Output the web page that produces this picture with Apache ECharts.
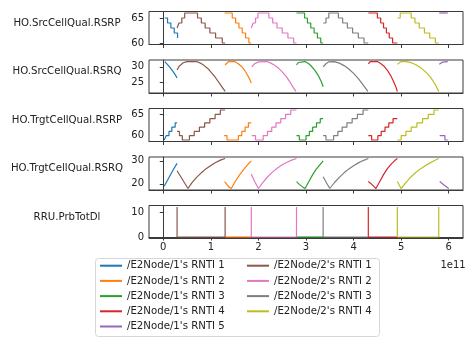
<!DOCTYPE html>
<html><head><meta charset="utf-8">
<script src="https://cdn.jsdelivr.net/npm/echarts@6/dist/echarts.min.js"></script>
<style>html,body{margin:0;padding:0;background:#fff}#c{width:474px;height:355px}</style>
</head><body><div id="c"></div><script>
// ---- data (x in units of 1e11) ----
const xTicks = [0, 1, 2, 3, 4, 5, 6];
const panelLabels = ['HO.SrcCellQual.RSRP', 'HO.SrcCellQual.RSRQ', 'HO.TrgtCellQual.RSRP', 'HO.TrgtCellQual.RSRQ', 'RRU.PrbTotDl'];
const panelTicks = [[60, 65], [25, 30], [60, 65], [20, 30], [0, 10]];
const seriesNames = ["/E2Node/1's RNTI 1", "/E2Node/1's RNTI 2", "/E2Node/1's RNTI 3", "/E2Node/1's RNTI 4", "/E2Node/1's RNTI 5",
  "/E2Node/2's RNTI 1", "/E2Node/2's RNTI 2", "/E2Node/2's RNTI 3", "/E2Node/2's RNTI 4"];
const seriesColors = ['#1f77b4', '#ff7f0e', '#2ca02c', '#d62728', '#9467bd', '#8c564b', '#e377c2', '#7f7f7f', '#bcbd22'];

// order: /1 R1..R5, /2 R1..R4
const srcRsrp = [
  [[0.03,65],[0.09,64],[0.16,63],[0.23,62],[0.3,61],[0.31,61]],
  [[1.29,66],[1.45,65],[1.52,64],[1.59,63],[1.66,62],[1.73,61],[1.8,60],[1.85,60]],
  [[2.8,66],[2.97,65],[3.03,64],[3.1,63],[3.17,62],[3.24,61],[3.31,60],[3.36,60]],
  [[4.31,66],[4.5,65],[4.57,64],[4.63,63],[4.69,62],[4.75,61],[4.82,60],[4.92,60]],
  [[5.8,66],[5.98,66]],
  [[0.29,63],[0.33,64],[0.39,65],[0.45,66],[0.72,65],[0.8,64],[0.88,63],[0.98,62],[1.1,61],[1.24,60],[1.3,60]],
  [[1.85,63],[1.89,64],[1.94,65],[1.99,66],[2.22,65],[2.3,64],[2.39,63],[2.5,62],[2.62,61],[2.74,60],[2.8,60]],
  [[3.36,64],[3.42,65],[3.48,66],[3.68,65],[3.77,64],[3.87,63],[3.98,62],[4.1,61],[4.22,60],[4.31,60]],
  [[4.92,65],[4.98,66],[5.21,65],[5.29,64],[5.38,63],[5.49,62],[5.6,61],[5.72,60],[5.79,60]]
];
const srcRsrq = [
  [[0.03,31.7],[0.08,30.9],[0.14,29.8],[0.2,28.6],[0.25,27.5],[0.29,26.4]],
  [[1.3,30.6],[1.33,31.2],[1.37,31.7],[1.5,31.7],[1.57,31.1],[1.64,30.2],[1.71,28.9],[1.77,27.4],[1.82,25.9],[1.85,24.8]],
  [[2.8,30.6],[2.84,31.4],[2.88,31.7],[2.98,31.7],[3.05,31.1],[3.12,30.1],[3.19,28.8],[3.26,27.2],[3.32,25.3],[3.36,23.6]],
  [[4.31,31],[4.35,31.7],[4.5,31.7],[4.57,31.1],[4.64,30.2],[4.71,28.9],[4.78,27.2],[4.84,25.3],[4.89,23.5],[4.92,22.1]],
  [[5.8,30.8],[5.87,31.5],[5.98,31.7]],
  [[0.29,29],[0.34,30.3],[0.42,31.3],[0.5,31.7],[0.7,31.7],[0.78,31.2],[0.86,30.4],[0.94,29.4],[1.02,28],[1.1,26.5],[1.2,24.3],[1.3,22.1]],
  [[1.86,30],[1.92,31],[2,31.6],[2.04,31.7],[2.18,31.7],[2.26,31.2],[2.34,30.5],[2.42,29.6],[2.5,28.4],[2.58,27],[2.66,25.2],[2.73,23.4],[2.79,22.1]],
  [[3.36,30],[3.42,31],[3.48,31.6],[3.5,31.7],[3.6,31.7],[3.7,31.2],[3.8,30.4],[3.9,29.3],[4,27.9],[4.1,26.2],[4.2,24.2],[4.3,22.1]],
  [[4.92,30.8],[4.96,31.4],[5,31.7],[5.12,31.7],[5.22,31.3],[5.32,30.6],[5.42,29.6],[5.52,28.3],[5.62,26.6],[5.71,24.5],[5.79,22.1]]
];
const trgRsrp = [
  [[0.02,59],[0.06,60],[0.12,61],[0.18,62],[0.25,63],[0.29,63]],
  [[1.28,60],[1.34,59],[1.58,60],[1.65,61],[1.72,62],[1.79,63],[1.85,63]],
  [[2.8,60],[2.86,59],[3,60],[3.07,61],[3.14,62],[3.22,63],[3.3,64],[3.36,64]],
  [[4.31,60],[4.38,59],[4.51,60],[4.58,61],[4.66,62],[4.74,63],[4.83,64],[4.92,64]],
  [[5.81,60],[5.92,59],[5.98,59]],
  [[0.29,61],[0.34,60],[0.4,59],[0.55,60],[0.65,61],[0.76,62],[0.87,63],[0.98,64],[1.09,65],[1.2,66],[1.3,66]],
  [[1.86,60],[1.94,59],[2.1,60],[2.19,61],[2.28,62],[2.37,63],[2.47,64],[2.57,65],[2.68,66],[2.8,66]],
  [[3.36,60],[3.42,59],[3.58,60],[3.67,61],[3.76,62],[3.86,63],[3.97,64],[4.08,65],[4.2,66],[4.31,66]],
  [[4.92,59],[5,60],[5.1,61],[5.21,62],[5.33,63],[5.45,64],[5.57,65],[5.69,66],[5.79,66]]
];
const trgRsrq = [
  [[0.02,19],[0.1,22],[0.2,25.8],[0.29,28.9]],
  [[1.29,21],[1.32,20.5],[1.38,18.6],[1.43,18],[1.5,20.6],[1.6,23.8],[1.7,26.5],[1.78,28.5],[1.85,30]],
  [[2.8,21],[2.86,19.8],[2.92,18.8],[2.98,18],[3.06,21],[3.14,24],[3.22,26.5],[3.3,28.5],[3.36,30]],
  [[4.31,21],[4.36,20.2],[4.42,19],[4.47,18],[4.55,21],[4.63,24],[4.71,26.6],[4.8,28.8],[4.86,30],[4.92,31]],
  [[5.81,21],[5.9,19.5],[6,18]],
  [[0.29,25.7],[0.4,22],[0.52,18],[0.6,20.4],[0.7,22.8],[0.8,24.8],[0.9,26.6],[1,28],[1.1,29.3],[1.2,30.3],[1.3,31]],
  [[1.85,24.3],[1.92,21],[2,18],[2.1,20.8],[2.2,23.2],[2.3,25.2],[2.4,26.9],[2.5,28.3],[2.6,29.4],[2.7,30.3],[2.8,31]],
  [[3.36,23.1],[3.43,20.5],[3.5,18],[3.6,20.6],[3.7,22.8],[3.8,24.8],[3.9,26.5],[4,27.9],[4.1,29.1],[4.2,30.1],[4.31,31]],
  [[4.92,21],[4.96,19.5],[5,18],[5.1,20.5],[5.2,22.9],[5.3,24.8],[5.4,26.4],[5.5,27.8],[5.6,29],[5.7,30.1],[5.79,31]]
];
const prbTotDl = [
  [],
  [[1.3,0],[1.85,0]],
  [[2.8,0],[3.36,0]],
  [[4.31,12],[4.31,0],[4.92,0]],
  [],
  [[0.29,12],[0.29,0],[1.3,0],[1.3,12]],
  [[1.85,12],[1.85,0],[2.8,0],[2.8,12]],
  [[3.36,12],[3.36,0],[4.31,0]],
  [[4.92,12],[4.92,0],[5.79,0],[5.79,12]]
];

// ---- layout ----
const FONT = 'DejaVu Sans';
const AX = '#3a3a3a';
const panels = [srcRsrp, srcRsrq, trgRsrp, trgRsrq, prbTotDl];
const stepped = [true, false, true, false, false];
const yRanges = [[59.7, 66.3], [21.6, 32.2], [58.65, 66.35], [17.35, 31.65], [-0.6, 12.6]];
const tops = [11.5, 60, 108.5, 157, 205.5];
const H = 33;

const grid = [], xAxis = [], yAxis = [], series = [], graphic = [];
panels.forEach((pdata, i) => {
  grid.push({left: 149, width: 314, top: tops[i], height: H, show: true, borderColor: AX, borderWidth: 1});
  xAxis.push({
    gridIndex: i, type: 'value', min: -0.3, max: 6.3,
    splitLine: {show: false},
    axisLine: {show: true, lineStyle: {color: AX}},
    axisTick: {show: true, length: 3.5, customValues: xTicks, lineStyle: {color: AX}},
    axisLabel: {show: i === 4, customValues: xTicks, margin: 4, fontSize: 10, fontFamily: FONT, color: '#222'}
  });
  yAxis.push({
    gridIndex: i, type: 'value', min: yRanges[i][0], max: yRanges[i][1],
    splitLine: {show: false},
    axisLine: {show: true, lineStyle: {color: AX}},
    axisTick: {show: true, length: 3.5, customValues: panelTicks[i], lineStyle: {color: AX}},
    axisLabel: {customValues: panelTicks[i], margin: 5, fontSize: 10, fontFamily: FONT, color: '#222'}
  });
  pdata.forEach((d, k) => {
    series.push({
      type: 'line', name: seriesNames[k], xAxisIndex: i, yAxisIndex: i, data: d,
      step: stepped[i] ? 'end' : false, showSymbol: false, symbol: 'none',
      lineStyle: {width: 1.2, color: seriesColors[k]}, itemStyle: {color: seriesColors[k]},
      animation: false, silent: true
    });
  });
  graphic.push({type: 'text', style: {text: panelLabels[i], x: 67, y: tops[i] + 11.5, align: 'center', verticalAlign: 'middle',
    fontSize: 10.2, fontFamily: FONT, fill: '#222'}});
});
graphic.push({type: 'text', style: {text: '1e11', x: 453, y: 265, align: 'center', verticalAlign: 'middle', fontSize: 10, fontFamily: FONT, fill: '#222'}});
graphic.push({type: 'rect', z: 1, shape: {x: 95.5, y: 258.5, width: 284, height: 78, r: 3}, style: {fill: '#fff', stroke: '#d6d6d6', lineWidth: 1}});

const legendBase = {
  orient: 'vertical', icon: 'rect', itemWidth: 22, itemHeight: 2, itemGap: 3.2, padding: 0,
  selectedMode: false, z: 10,
  textStyle: {fontSize: 10.2, fontFamily: FONT, color: '#222', lineHeight: 12}
};
const legend = [
  Object.assign({}, legendBase, {left: 100, top: 259.7, data: seriesNames.slice(0, 5)}),
  Object.assign({}, legendBase, {left: 247, top: 259.7, data: seriesNames.slice(5)})
];

const chart = echarts.init(document.getElementById('c'), null, {renderer: 'canvas'});
chart.setOption({animation: false, backgroundColor: '#fff', grid, xAxis, yAxis, series, legend, graphic});
</script></body></html>
